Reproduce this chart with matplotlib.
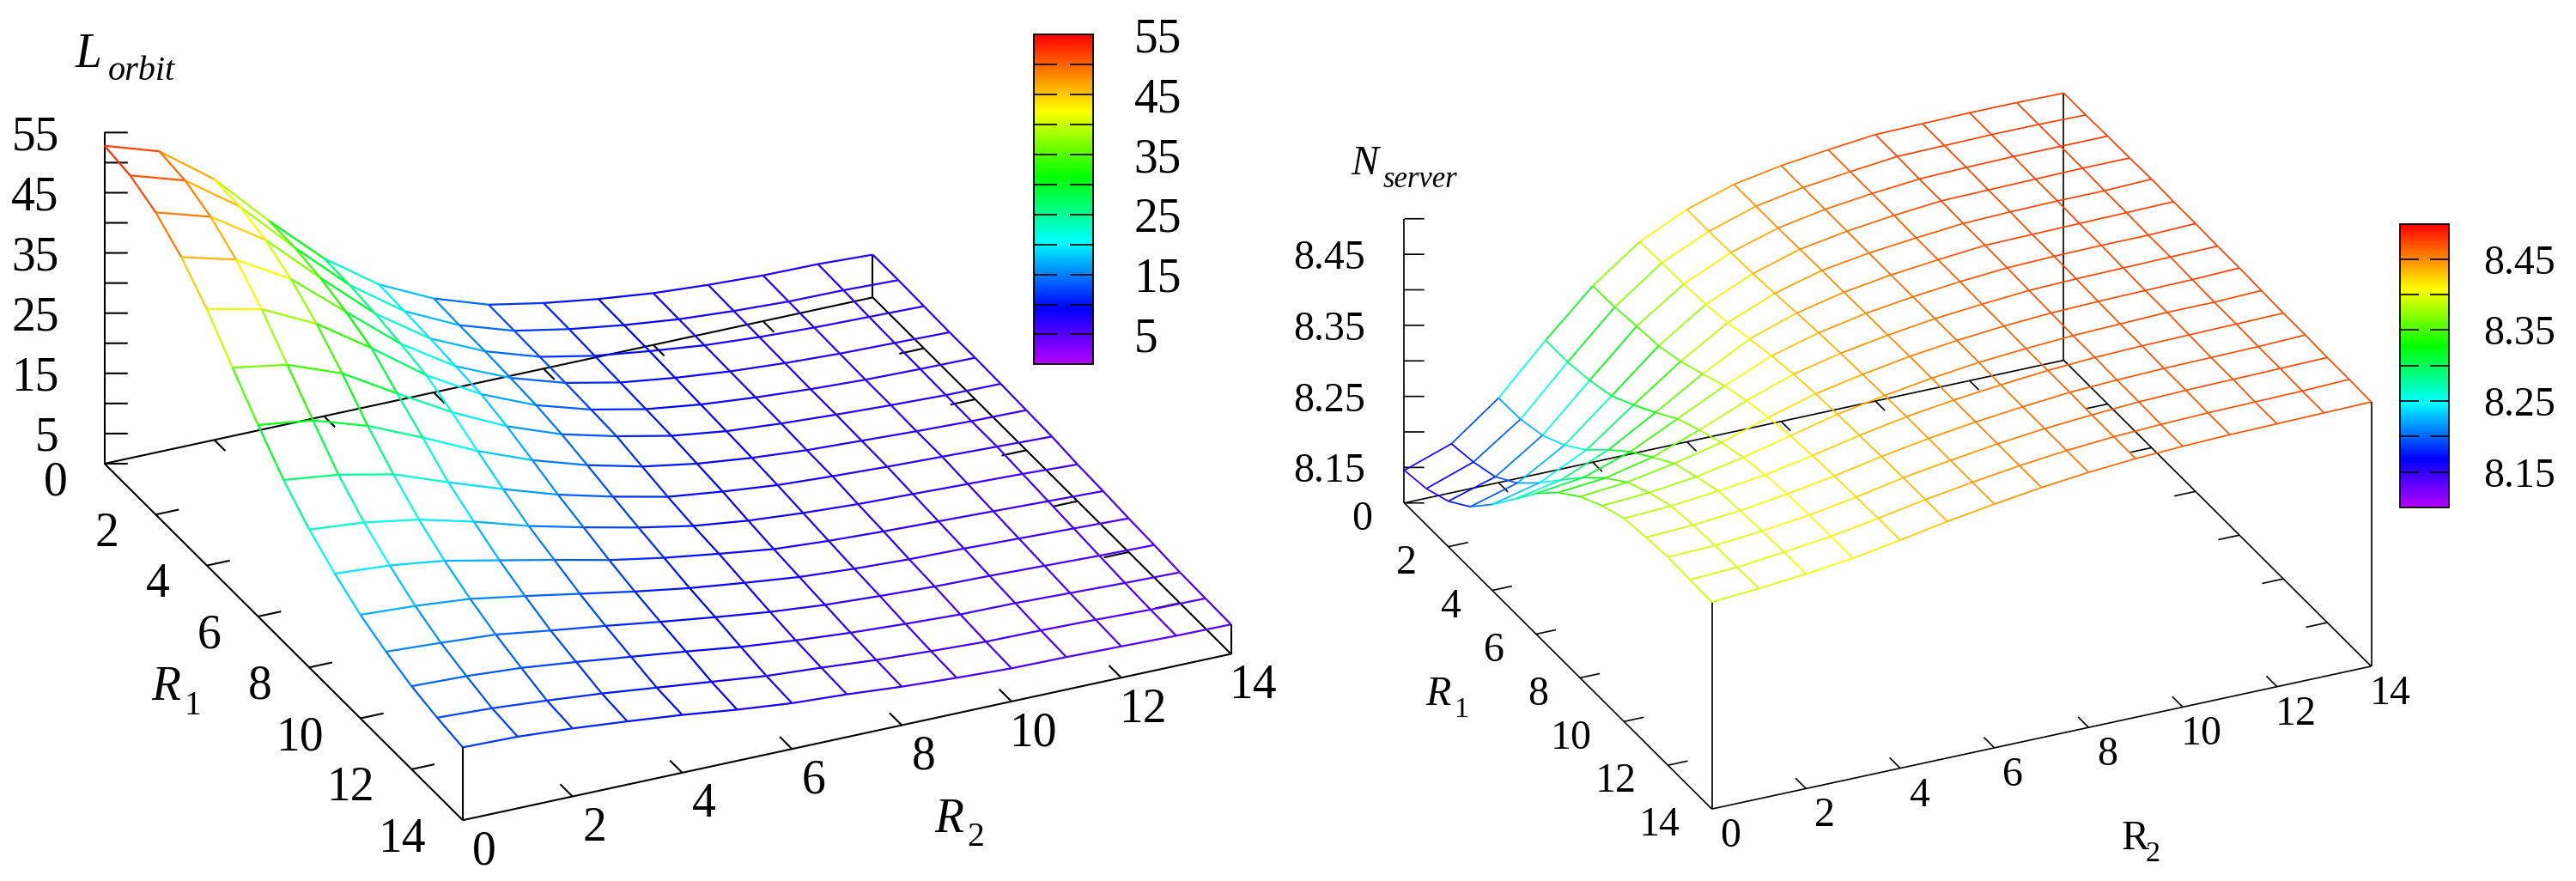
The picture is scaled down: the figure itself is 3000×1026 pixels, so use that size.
"""Two Tecplot-style wireframe surfaces over the (R1, R2) grid: orbit length
and server count, each with its own rainbow legend bar."""
import numpy as np
import matplotlib
matplotlib.use("Agg")
import matplotlib.pyplot as plt
from matplotlib.cm import ScalarMappable
from matplotlib.colors import LinearSegmentedColormap, Normalize
from mpl_toolkits.mplot3d import proj3d
from mpl_toolkits.mplot3d.art3d import Line3DCollection

R1 = [0, 1, 2, 3, 4, 5, 6, 7, 8, 9, 10, 11, 12, 13, 14]
R2 = [0, 1, 2, 3, 4, 5, 6, 7, 8, 9, 10, 11, 12, 13, 14]
R_TICKS = [0, 2, 4, 6, 8, 10, 12, 14]

# rows: R1 = 0..14, columns: R2 = 0..14
L_ORBIT = [
    [52.8, 49.9, 43.3, 34.4, 26.2, 19.9, 15.6, 12.6, 10.9, 9.6, 8.6, 8.0, 7.6, 7.5, 7.1],
    [52.1, 49.3, 43.0, 34.2, 26.0, 19.7, 15.4, 12.5, 10.8, 9.5, 8.5, 7.9, 7.5, 7.4, 7.1],
    [50.2, 47.5, 41.7, 33.4, 25.5, 19.4, 15.3, 12.4, 10.6, 9.4, 8.4, 7.8, 7.4, 7.2, 7.0],
    [47.0, 44.6, 39.4, 32.0, 24.7, 19.0, 15.1, 12.3, 10.4, 9.2, 8.3, 7.7, 7.3, 7.1, 6.9],
    [42.6, 40.6, 36.2, 30.2, 23.7, 18.6, 14.8, 12.1, 10.2, 9.0, 8.2, 7.6, 7.2, 7.0, 6.9],
    [37.1, 35.6, 32.2, 26.9, 21.8, 17.5, 14.2, 11.9, 10.0, 8.8, 8.1, 7.6, 7.2, 6.9, 6.8],
    [31.8, 30.6, 27.7, 23.8, 19.6, 16.1, 13.3, 11.1, 9.6, 8.6, 7.9, 7.5, 7.1, 6.8, 6.65],
    [26.9, 25.8, 23.9, 20.6, 17.5, 14.6, 12.3, 10.3, 9.2, 8.3, 7.8, 7.4, 7.1, 6.8, 6.5],
    [22.9, 22.1, 20.6, 18.3, 15.6, 13.4, 11.4, 9.7, 8.6, 7.9, 7.4, 7.1, 6.8, 6.5, 6.1],
    [19.8, 19.2, 18.0, 16.1, 14.2, 12.2, 10.6, 9.3, 8.1, 7.5, 7.1, 6.8, 6.5, 6.2, 5.9],
    [17.2, 16.7, 15.9, 14.4, 12.8, 11.2, 9.8, 8.7, 7.7, 7.1, 6.7, 6.5, 6.2, 5.9, 5.6],
    [15.3, 14.8, 14.2, 12.9, 11.7, 10.4, 9.2, 8.1, 7.3, 6.8, 6.4, 6.2, 5.9, 5.6, 5.4],
    [13.8, 13.5, 12.9, 11.9, 10.8, 9.7, 8.5, 7.6, 6.9, 6.4, 6.0, 5.9, 5.6, 5.3, 5.1],
    [12.8, 12.4, 11.7, 10.9, 9.9, 8.9, 7.9, 7.3, 6.6, 6.1, 5.7, 5.6, 5.4, 5.1, 5.0],
    [12.1, 11.9, 11.3, 10.5, 9.6, 8.5, 7.6, 7.1, 6.4, 5.9, 5.5, 5.4, 5.2, 5.0, 4.9],
]

N_SERVER = [
    [8.146, 8.169, 8.219, 8.286, 8.348, 8.396, 8.427, 8.448, 8.460, 8.468, 8.475, 8.476, 8.477, 8.477, 8.476],
    [8.151, 8.174, 8.220, 8.286, 8.349, 8.397, 8.427, 8.448, 8.460, 8.468, 8.475, 8.476, 8.477, 8.477, 8.476],
    [8.164, 8.184, 8.228, 8.291, 8.353, 8.398, 8.428, 8.448, 8.460, 8.468, 8.474, 8.476, 8.477, 8.477, 8.477],
    [8.187, 8.206, 8.245, 8.300, 8.356, 8.400, 8.429, 8.449, 8.460, 8.468, 8.474, 8.475, 8.476, 8.477, 8.477],
    [8.221, 8.237, 8.269, 8.318, 8.365, 8.405, 8.432, 8.450, 8.460, 8.467, 8.473, 8.475, 8.476, 8.476, 8.478],
    [8.259, 8.272, 8.300, 8.338, 8.378, 8.413, 8.435, 8.450, 8.460, 8.467, 8.473, 8.474, 8.475, 8.476, 8.477],
    [8.298, 8.306, 8.328, 8.360, 8.392, 8.420, 8.438, 8.451, 8.460, 8.467, 8.472, 8.474, 8.475, 8.475, 8.477],
    [8.330, 8.336, 8.351, 8.375, 8.402, 8.425, 8.440, 8.451, 8.460, 8.466, 8.471, 8.473, 8.474, 8.475, 8.476],
    [8.355, 8.361, 8.373, 8.388, 8.409, 8.428, 8.441, 8.452, 8.460, 8.466, 8.470, 8.472, 8.473, 8.474, 8.476],
    [8.373, 8.377, 8.385, 8.398, 8.414, 8.430, 8.442, 8.452, 8.460, 8.465, 8.469, 8.471, 8.473, 8.473, 8.475],
    [8.386, 8.389, 8.396, 8.404, 8.417, 8.431, 8.443, 8.452, 8.459, 8.465, 8.469, 8.471, 8.472, 8.473, 8.474],
    [8.390, 8.393, 8.399, 8.408, 8.419, 8.432, 8.443, 8.452, 8.459, 8.465, 8.468, 8.470, 8.471, 8.472, 8.474],
    [8.393, 8.395, 8.401, 8.409, 8.420, 8.433, 8.443, 8.452, 8.459, 8.464, 8.468, 8.470, 8.471, 8.472, 8.473],
    [8.392, 8.395, 8.402, 8.410, 8.421, 8.433, 8.443, 8.452, 8.459, 8.464, 8.467, 8.469, 8.470, 8.471, 8.473],
    [8.391, 8.396, 8.402, 8.410, 8.421, 8.433, 8.443, 8.452, 8.459, 8.464, 8.467, 8.469, 8.470, 8.471, 8.472],
]

L_Z_TICKS = [0, 5, 10, 15, 20, 25, 30, 35, 40, 45, 50, 55]
L_Z_LABELS = [5, 15, 25, 35, 45, 55]
L_BAR_LEVELS = [5, 10, 15, 20, 25, 30, 35, 40, 45, 50]
N_Z_TICKS = [8.10, 8.15, 8.20, 8.25, 8.30, 8.35, 8.40, 8.45, 8.50]
N_Z_LABELS = [8.15, 8.25, 8.35, 8.45]
N_BAR_LEVELS = [8.15, 8.20, 8.25, 8.30, 8.35, 8.40, 8.45]

W, H = 3000, 1026
plt.rcParams.update({"font.family": "Liberation Serif"})

rainbow = LinearSegmentedColormap.from_list("tecplot", [
    (0.00, "#b400ff"), (0.17, "#0000ff"), (0.37, "#00ffff"),
    (0.57, "#00ff00"), (0.77, "#ffff00"), (1.00, "#ff0000")])

fig = plt.figure(figsize=(W / 100, H / 100), dpi=100)

# screen-horizontal direction in the base plane (R1, R2 per unit)
HORIZ = np.array([0.1616, 0.347])


def surface(z, zlim, zticks, zlabels, fmt, lw, blw):
    ax = fig.add_axes([0, 0, 800 / W, 800 / H], projection="3d")
    ax.set_proj_type("ortho")
    ax.view_init(elev=27.65, azim=-25)
    ax.set_box_aspect((1, 1, 0.441))
    ax.set_axis_off()
    ax.patch.set_alpha(0)
    ax.computed_zorder = False

    Z = np.array(z)
    x, y = np.array(R1, float), np.array(R2, float)
    n, m = Z.shape
    norm = Normalize(*zlim)
    segs, vals = [], []
    for j in range(n):
        for k in range(m - 1):
            segs.append([(x[j], y[k], Z[j, k]), (x[j], y[k + 1], Z[j, k + 1])])
            vals.append(0.5 * (Z[j, k] + Z[j, k + 1]))
    for k in range(m):
        for j in range(n - 1):
            segs.append([(x[j], y[k], Z[j, k]), (x[j + 1], y[k], Z[j + 1, k])])
            vals.append(0.5 * (Z[j, k] + Z[j + 1, k]))
    ax.add_collection3d(Line3DCollection(segs, colors=rainbow(norm(vals)),
                                         linewidths=lw, zorder=2))

    z0, z1 = zlim
    xe, ye = x[-1], y[-1]
    kw = dict(color="black", lw=blw, zorder=1, solid_capstyle="butt")
    ax.plot([0, 0], [0, 0], [z0, z1], **kw)
    ax.plot([0, xe], [0, 0], [z0, z0], **kw)
    ax.plot([xe, xe], [0, ye], [z0, z0], **kw)
    ax.plot([0, 0], [0, ye], [z0, z0], **kw)
    ax.plot([0, xe], [ye, ye], [z0, z0], **kw)
    for j, k in [(n - 1, 0), (n - 1, m - 1), (0, m - 1)]:
        ax.plot([x[j], x[j]], [y[k], y[k]], [z0, Z[j, k]], **kw)
    for t in R_TICKS[1:-1]:
        ax.plot([t, t], [0, 0.42], [z0, z0], **kw)
        ax.plot([t, t], [ye, ye - 0.45], [z0, z0], **kw)
        ax.plot([xe, xe - 0.48], [t, t], [z0, z0], **kw)
        ax.plot([0, 0.43], [t, t], [z0, z0], **kw)
    for zt in zticks:
        ax.plot([0, HORIZ[0]], [0, HORIZ[1]], [zt, zt], **kw)

    ax.set_xlim(0, xe)
    ax.set_ylim(0, ye)
    ax.set_zlim(*zlim)

    # tick labels: 3D anchor point, text, horizontal alignment
    off = -HORIZ * 53 / 27
    marks = [((off[0], off[1], zl), fmt.format(zl), "right") for zl in zlabels]
    for t in R_TICKS:
        marks.append(((t + 0.2, -0.77, z0), str(t), "right"))
        marks.append(((xe + 1.02, t - 0.08, z0), str(t), "center"))
    return ax, marks


def project(ax, pts):
    P = np.array(pts, float)
    xs, ys, _ = proj3d.proj_transform(P[:, 0], P[:, 1], P[:, 2], ax.get_proj())
    return ax.transData.transform(np.column_stack([xs, ys]))


def fit(ax, pts, targets):
    """Scale and shift the square 3D axes so box corners land on targets."""
    fig.canvas.draw()
    bb = ax.get_position().transformed(fig.transFigure)
    d = project(ax, pts)
    u = (d - [bb.x0, bb.y0]) / bb.width
    T = np.array(targets, float)
    T[:, 1] = H - T[:, 1]
    A = np.zeros((2 * len(d), 3))
    b = np.zeros(2 * len(d))
    A[0::2, 0] = 1
    A[0::2, 2] = u[:, 0]
    b[0::2] = T[:, 0]
    A[1::2, 1] = 1
    A[1::2, 2] = u[:, 1]
    b[1::2] = T[:, 1]
    x0, y0, s = np.linalg.lstsq(A, b, rcond=None)[0]
    ax.set_position([x0 / W, y0 / H, s / W, s / H])


def put_marks(ax, marks, font):
    d = project(ax, [p for p, _, _ in marks])
    for (px, py), (_, s, ha) in zip(d, marks):
        fig.text(px / W, py / H, s, ha=ha, va="center_baseline", fontsize=font)


def legend_bar(rect, zlim, labels, fmt, levels, font, pad):
    left, top, width, height = rect
    cax = fig.add_axes([left / W, 1 - (top + height) / H, width / W, height / H])
    cb = fig.colorbar(ScalarMappable(norm=Normalize(*zlim), cmap=rainbow), cax=cax)
    cb.set_ticks(labels, labels=[fmt.format(v) for v in labels])
    cax.tick_params(length=0, pad=pad, labelsize=font)
    cb.outline.set_linewidth(1.3)
    tr = cax.get_yaxis_transform()
    cax.hlines(levels, 0, 0.39, colors="black", lw=1.2, transform=tr)
    cax.hlines(levels, 0.61, 1, colors="black", lw=1.2, transform=tr)


def label(x, y, s, size, italic=True):
    fig.text(x / W, 1 - y / H, s, fontsize=size, va="baseline", ha="left",
             style="italic" if italic else "normal")


ax_l, marks_l = surface(L_ORBIT, (0, 55), L_Z_TICKS, L_Z_LABELS, "{:d}", 1.6, 1.5)
ax_r, marks_r = surface(N_SERVER, (8.10, 8.50), N_Z_TICKS, N_Z_LABELS, "{:.2f}", 1.25, 1.2)

fit(ax_l, [(0, 0, 0), (14, 0, 0), (0, 14, 0), (0, 0, 55)],
    [(121.7, 540), (539.3, 955.3), (1016.1, 346.6), (121.7, 154)])
fit(ax_r, [(0, 0, 8.1), (14, 0, 8.1), (0, 14, 8.1), (0, 0, 8.5)],
    [(1635.7, 585.7), (1993, 942.4), (2403.6, 418.9), (1635.7, 255.2)])
put_marks(ax_l, marks_l, 40)
put_marks(ax_r, marks_r, 34.5)

legend_bar((1204, 40.4, 68.5, 384), (0, 55), L_Z_LABELS, "{:d}", L_BAR_LEVELS, 40, 34.5)
legend_bar((2795, 260.5, 57, 330.5), (8.10, 8.50), N_Z_LABELS, "{:.2f}",
           N_BAR_LEVELS, 34.5, 29)

label(88, 78.3, "L", 40)
label(125.5, 93.3, "orbit", 29)
label(176, 815, "R", 40)
label(214, 831.7, "1", 28.5, italic=False)
label(1088, 969, "R", 40)
label(1126, 985, "2", 28.5, italic=False)

label(1573, 203.3, "N", 34.4)
label(1610.5, 218.3, "server", 25)
label(1660, 821, "R", 34.5)
label(1694, 835, "1", 24.5, italic=False)
label(2470.5, 989.3, "R", 34.5, italic=False)
label(2499, 1003.3, "2", 24.5, italic=False)

fig.savefig("out.png", dpi=100, facecolor="white")
